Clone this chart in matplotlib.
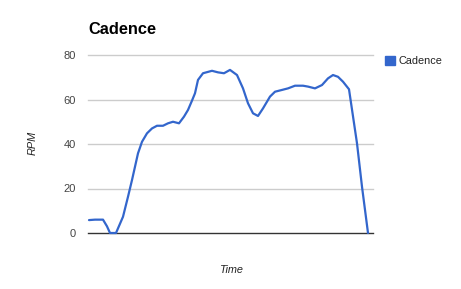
import numpy as np
from matplotlib import pyplot as plt
from matplotlib.patches import Patch

plt.rcParams['font.family'] = ['Liberation Sans', 'DejaVu Sans']

# time (arbitrary units, no tick labels on the chart) and cadence in RPM
time = [0, 6, 14, 18, 21, 27, 34, 39, 43, 46, 49, 53, 58, 63, 68, 74, 79, 84,
        90, 95, 99, 103, 106, 109, 114, 123, 129, 135, 141, 148, 154, 159, 164,
        169, 174, 181, 186, 193, 199, 206, 214, 219, 226, 233, 239, 244, 249,
        254, 260, 268, 273, 279]
cadence = [5.8, 6, 6, 3, 0, 0, 7.3, 16.3, 23.8, 29.8, 35.8, 41, 44.8, 47, 48.2,
           48.2, 49.3, 50, 49.3, 52.3, 55.3, 59.5, 62.8, 68.8, 71.8, 72.9, 72.2,
           71.8, 73.3, 71, 65, 58.3, 53.8, 52.6, 56, 61.3, 63.5, 64.3, 65, 66.2,
           66.2, 65.8, 65, 66.5, 69.5, 71, 70.2, 68, 64.6, 40.3, 20.8, 0]
yticks = [0, 20, 40, 60, 80]

W, H = 461, 289
fig = plt.figure(figsize=(W / 100, H / 100), dpi=100)
ax = fig.add_axes([88 / W, 1 - 233 / H, (373 - 88) / W, (233 - 55) / H])

for y in yticks:
    ax.axhline(y, color='#333333' if y == 0 else '#cccccc', lw=1, zorder=1,
               clip_on=False)

ax.plot(time, cadence, color='#3366cc', lw=1.6, solid_joinstyle='round',
        solid_capstyle='round', zorder=3, clip_on=False)

ax.set_xlim(-1, 284)
ax.set_ylim(0, 80)
ax.set_yticks(yticks)
ax.set_yticklabels([str(v) for v in yticks], fontsize=8, color='#444444')
ax.tick_params(axis='y', length=0, pad=8.5)
ax.set_xticks([])
for s in ax.spines.values():
    s.set_visible(False)

fig.text(33 / W, 1 - 143 / H, 'RPM', rotation=90, style='italic', fontsize=7.8,
         color='#222222', ha='center', va='center')
fig.text(231 / W, 1 - 270 / H, 'Time', style='italic', fontsize=7.8,
         color='#222222', ha='center', va='center')
fig.text(88 / W, 1 - 29 / H, 'Cadence', fontweight='bold', fontsize=11.8,
         color='#000000', ha='left', va='center')

fig.legend(handles=[Patch(color='#3366cc', label='Cadence')], loc='upper left',
           bbox_to_anchor=(383 / W, 1 - 54 / H), frameon=False, fontsize=7.8,
           handlelength=0.9, handleheight=0.9, handletextpad=0.35,
           borderaxespad=0, borderpad=0.2, labelcolor='#222222')

fig.savefig('out.png', dpi=100)
